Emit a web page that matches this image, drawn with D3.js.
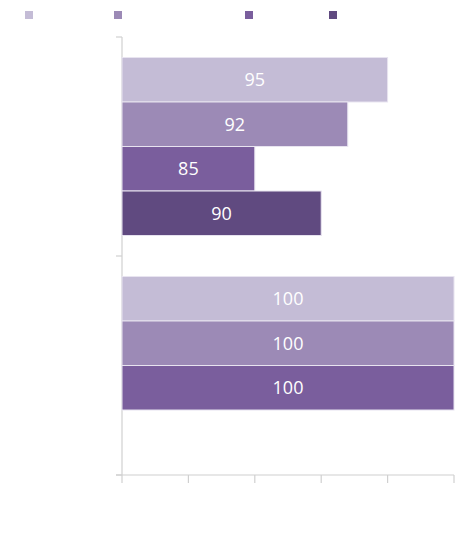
<!DOCTYPE html>
<html><head><meta charset="utf-8">
<script src="https://cdn.jsdelivr.net/npm/d3@7"></script>
<style>body{margin:0;background:#fff}</style></head>
<body><svg id="c" width="474" height="540"></svg>
<script>
const categories = ["A", "B"];
const series = ["S1", "S2", "S3", "S4"];
const values = [[95, 92, 85, 90], [100, 100, 100, null]];
const colors = ["#c4bcd6", "#9c8ab6", "#7a5e9d", "#604a80"];
const xTicks = [75, 80, 85, 90, 95, 100];

const svg = d3.select("#c");
const x = d3.scaleLinear().domain([75, 100]).range([122, 454]);
const y = d3.scaleBand().domain(categories).range([37, 475]).paddingInner(0).paddingOuter(0);
const y1 = d3.scaleBand().domain(series).range([0, y.bandwidth()]).paddingOuter(0.46);

// legend
const lx = [25, 114, 245, 329];
series.forEach((s, i) => {
  svg.append("rect").attr("x", lx[i]).attr("y", 11).attr("width", 8).attr("height", 8).attr("fill", colors[i]);
});

// axes
const ax = svg.append("g").attr("stroke", "#d0d0d0").attr("stroke-width", 1.2);
ax.append("line").attr("x1", 122).attr("x2", 122).attr("y1", 37).attr("y2", 475);
ax.append("line").attr("x1", 116).attr("x2", 454).attr("y1", 475).attr("y2", 475);
[37, y("B"), 475].forEach(v => ax.append("line").attr("x1", 116).attr("x2", 122).attr("y1", v).attr("y2", v));
xTicks.forEach(t => ax.append("line").attr("x1", x(t)).attr("x2", x(t)).attr("y1", 475).attr("y2", 483));

categories.forEach((c, ci) => {
  series.forEach((s, si) => {
    const v = values[ci][si];
    if (v == null) return;
    const yy = y(c) + y1(s), h = y1.bandwidth();
    svg.append("rect").attr("x", x(75)).attr("y", yy).attr("width", x(v) - x(75)).attr("height", h)
      .attr("fill", colors[si]).attr("stroke", "#e8e4f0").attr("stroke-width", 1);
    svg.append("text").attr("x", (x(75) + x(v)) / 2).attr("y", yy + h / 2 + 6.5)
      .attr("text-anchor", "middle").attr("fill", "#fff").attr("font-family", "Open Sans, sans-serif")
      .attr("font-size", 18).text(v);
  });
});
</script></body></html>
